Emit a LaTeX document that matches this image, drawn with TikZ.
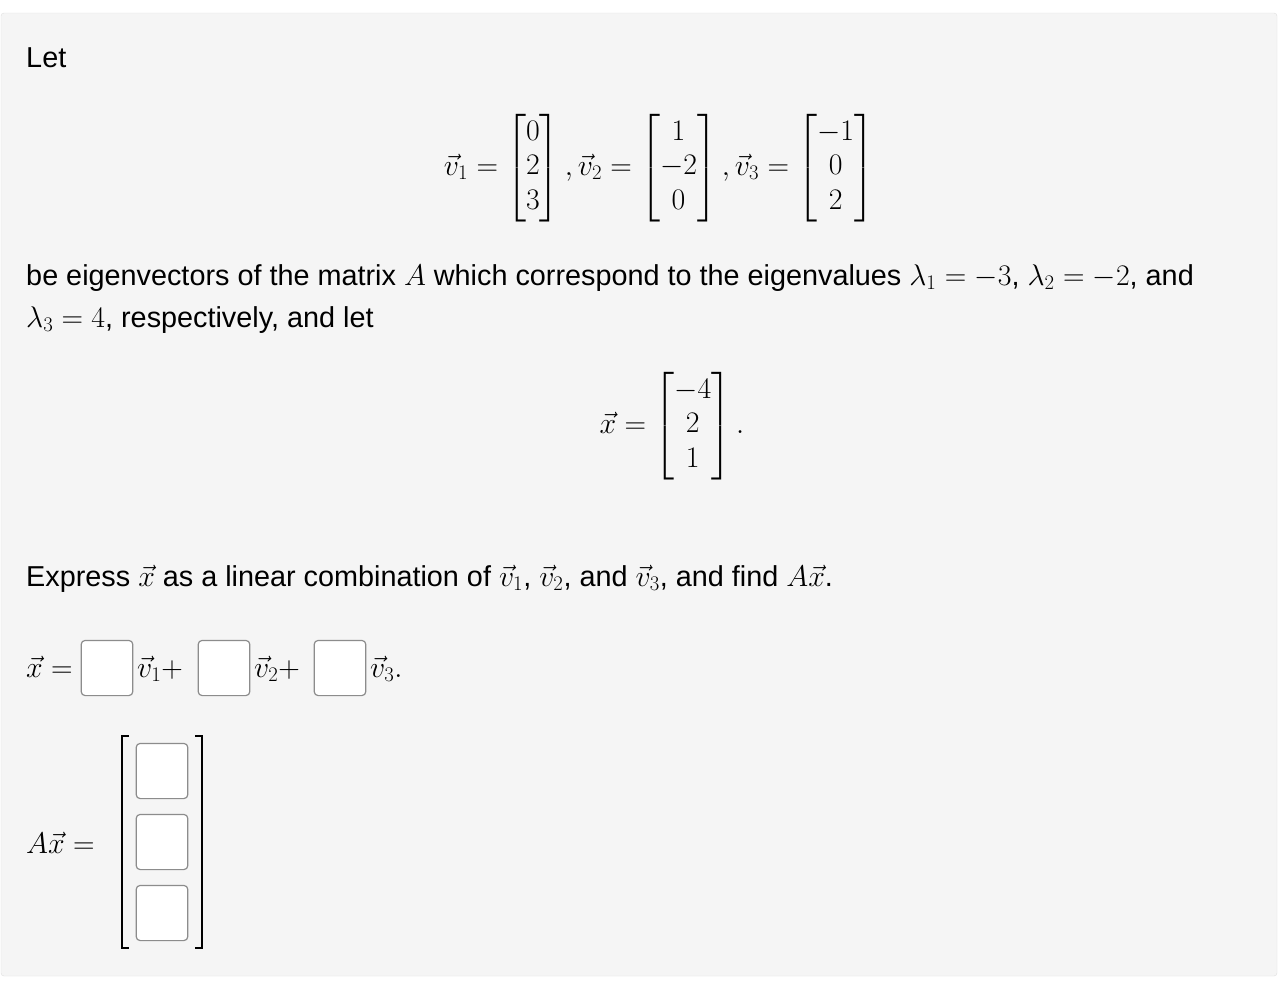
\documentclass[tikz,border=0pt]{standalone}
\usepackage{amsmath}
\usepackage[no-math]{fontspec}
\setmainfont{Liberation Sans}
\begin{document}
\begin{tikzpicture}[x=1pt,y=-1pt,
  every node/.style={font=\fontsize{24}{29}\selectfont, inner sep=0pt, scale=1.2},
  ansbox/.style={scale=1, draw=black!45, fill=white, rounded corners=4pt, line width=1.2pt, minimum width=43pt, minimum height=46pt},
  brk/.style={line width=1.6pt}]
\useasboundingbox (0,0) rectangle (1278,1004);
\fill[white] (0,0) rectangle (1278,1004);
\draw[fill=black!4, draw=black!12, rounded corners=3pt] (1,13) rectangle (1277,976);
\node[anchor=base west] (let) at (26,67) {Let};
\node (v) at (659,168) {$\vec v_1=\begin{bmatrix}0\\2\\3\end{bmatrix},\vec v_2=\begin{bmatrix}1\\-2\\0\end{bmatrix},\vec v_3=\begin{bmatrix}-1\\0\\2\end{bmatrix}$};
\node[anchor=base west] (t1) at (26,285) {be eigenvectors of the matrix $A$ which correspond to the eigenvalues $\lambda_1=-3$, $\lambda_2=-2$, and};
\node[anchor=base west] (t2) at (26,327) {$\lambda_3=4$, respectively, and let};
\node (x) at (672,426) {$\vec x=\begin{bmatrix}-4\\2\\1\end{bmatrix}.$};
\node[anchor=base west] (t3) at (26,586) {Express $\vec x$ as a linear combination of $\vec v_1$, $\vec v_2$, and $\vec v_3$, and find $A\vec x$.};
\node[anchor=base west] (xe) at (26,677) {$\vec x=$};
\node[ansbox] (b1) at (107,668) {};
\node[anchor=base west] (p1) at (137,677) {$\vec v_1+$};
\node[ansbox] (b2) at (224,668) {};
\node[anchor=base west] (p2) at (254,677) {$\vec v_2+$};
\node[ansbox] (b3) at (340,668) {};
\node[anchor=base west] (p3) at (370,677) {$\vec v_3.$};
\node[anchor=base west] (ax) at (26,853) {$A\vec x=$};
\node[ansbox] (c1) at (162,771) {};
\node[ansbox] (c2) at (162,842) {};
\node[ansbox] (c3) at (162,913) {};
\draw[brk] (129,736) -- (122,736) -- (122,948) -- (129,948);
\draw[brk] (195,736) -- (202,736) -- (202,948) -- (195,948);
\end{tikzpicture}
\end{document}
